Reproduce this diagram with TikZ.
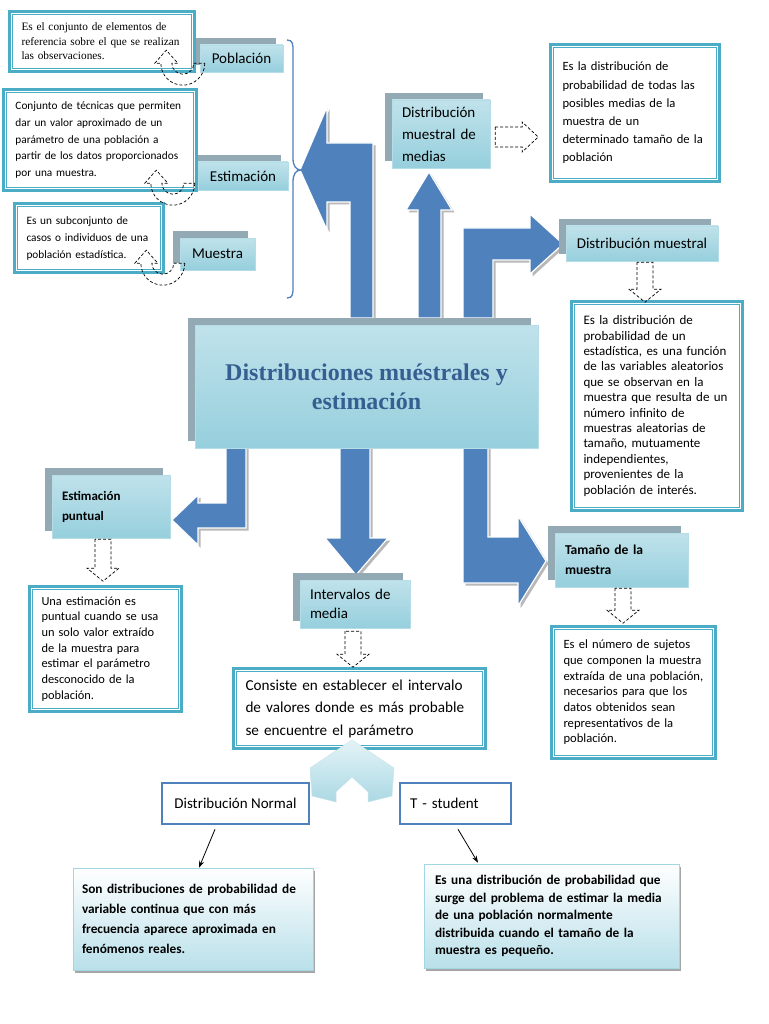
\documentclass[tikz,border=0pt]{standalone}
\usepackage{fontspec}
\setmainfont{Carlito}
\newfontfamily\seriffont{Liberation Serif}
\usetikzlibrary{arrows.meta, positioning, calc, shadows}

\definecolor{boxteal}{HTML}{4BACC6}
\definecolor{arrowblue}{HTML}{4F81BD}
\definecolor{labelshade}{HTML}{93AAB4}
\definecolor{labellight}{HTML}{E4F3F7}
\definecolor{labeldark}{HTML}{96CFDD}
\definecolor{titleblue}{HTML}{365F91}
\definecolor{notefill}{HTML}{B9E0EA}

\tikzset{
  labelbox/.style={top color=labeldark!60!white, middle color=labellight, bottom color=labeldark,
    draw=labeldark!70!white, line width=0.4pt, inner xsep=10pt, font=\fontsize{15}{18}\selectfont,
    drop shadow={shadow xshift=-7pt, shadow yshift=7pt, fill=labelshade, opacity=1}},
  descbox/.style={fill=white, draw=boxteal, line width=1pt, double=white, double distance=1.2pt,
    preaction={draw=boxteal, line width=7pt}, inner xsep=10pt, align=left},
  blockarrow/.style={fill=arrowblue, draw=white, line width=1.2pt,
    drop shadow={shadow xshift=2.5pt, shadow yshift=-2.5pt, fill=black!28, opacity=1}},
  hollowarrow/.style={draw=black, line width=0.7pt, dash pattern=on 3pt off 2pt},
  choicebox/.style={fill=white, draw=arrowblue, line width=2.5pt, minimum height=41pt,
    font=\fontsize{15}{18}\selectfont,
    drop shadow={shadow xshift=1pt, shadow yshift=-1pt, fill=black!40, opacity=1}},
  notebox/.style={top color=white, bottom color=notefill, draw=notefill!80!boxteal, line width=0.6pt,
    align=left, font=\bfseries,
    drop shadow={shadow xshift=1.5pt, shadow yshift=-2.5pt, fill=black!35, opacity=1}},
  pics/dnarrow/.style={code={
    \draw[hollowarrow] (-8,0) -- (-8,{#1-13}) -- (-16,{#1-13}) -- (0,#1) -- (16,{#1-13}) -- (8,{#1-13}) -- (8,0) -- cycle;
  }},
  pics/rtarrow/.style={code={
    \draw[hollowarrow] (0,-10) -- ({#1-16},-10) -- ({#1-16},-15) -- (#1,0) -- ({#1-16},15) -- ({#1-16},10) -- (0,10) -- cycle;
  }},
  pics/uturn/.style={code={
    \draw[hollowarrow] (22,0) arc[start angle=0, end angle=180, radius=22] -- (-28,0) -- (-16.5,-13)
      -- (-5,0) -- (-11,0) arc[start angle=180, end angle=0, radius=11] -- cycle;
  }},
}

\begin{document}
\begin{tikzpicture}[x=1pt, y=-1pt]
  \fill[white] (0,0) rectangle (768,1024);

  % Block arrows out of the central box
  \path[blockarrow] (350,318) -- (350,202) -- (327,202) -- (327,230) -- (300,170) -- (327,107)
    -- (327,143) -- (373,143) -- (373,318) -- cycle;
  \path[blockarrow] (418,318) -- (418,210) -- (406,210) -- (429,172) -- (452,210) -- (441,210)
    -- (441,318) -- cycle;
  \path[blockarrow] (463,318) -- (463,228) -- (530,228) -- (530,214) -- (563,244) -- (530,274)
    -- (530,260) -- (493,260) -- (493,318) -- cycle;
  \path[blockarrow] (246,440) -- (246,528) -- (198,528) -- (198,545) -- (172,520) -- (198,495)
    -- (198,503) -- (226,503) -- (226,440) -- cycle;
  \path[blockarrow] (340,440) -- (340,538) -- (325,538) -- (356,575) -- (388,538) -- (370,538)
    -- (370,440) -- cycle;
  \path[blockarrow] (463,440) -- (463,583) -- (518,583) -- (518,606) -- (546,561) -- (518,516)
    -- (518,537) -- (488,537) -- (488,440) -- cycle;

  % Brace
  \draw[arrowblue, line width=1.3pt] (287,40) .. controls (293,40) and (293,44) .. (293,52) -- (293,158)
    .. controls (293,166) and (296,170) .. (301,170) .. controls (296,170) and (293,174) .. (293,182)
    -- (293,286) .. controls (293,294) and (293,298) .. (287,298);

  % Central box
  \node[labelbox, minimum width=343pt, minimum height=123pt, align=center, text=titleblue,
    font=\seriffont\bfseries\fontsize{24}{29}\selectfont] (main) at (366.5,386.5)
    {Distribuciones muéstrales y\\estimación};

  % Labels
  \node[labelbox, minimum width=83pt, minimum height=27pt] (pob) at (241.5,58.5) {Población};
  \node[labelbox, minimum width=90pt, minimum height=28pt] (est) at (243,176) {Estimación};
  \node[labelbox, minimum width=75pt, minimum height=32pt] (mu) at (217.5,254) {Muestra};
  \node[labelbox, minimum width=98pt, minimum height=68pt, text width=78pt, align=left,
    font=\fontsize{15}{22}\selectfont] (medias) at (441,134) {Distribución\\muestral de\\medias};
  \node[labelbox, minimum width=152pt, minimum height=35pt] (dm) at (642,243.5) {Distribución muestral};
  \node[labelbox, minimum width=118pt, minimum height=63pt, text width=98pt, align=left,
    font=\bfseries\fontsize{13}{20}\selectfont] (punt) at (111,506.5) {Estimación\\puntual};
  \node[labelbox, minimum width=110pt, minimum height=48pt, text width=90pt, align=left,
    font=\fontsize{15}{19}\selectfont] (inter) at (355,604) {Intervalos de\\media};
  \node[labelbox, minimum width=133pt, minimum height=54pt, text width=113pt, align=left,
    font=\bfseries\fontsize{13.6}{20}\selectfont] (tam) at (621.5,560) {Tamaño de la\\muestra};

  % Definition boxes
  \node[descbox, minimum width=181pt, minimum height=56pt, text width=161pt,
    font=\seriffont\fontsize{11.3}{14.5}\selectfont] (pobdesc) at (102,41.5)
    {Es el conjunto de elementos de\\referencia sobre el que se realizan\\las observaciones.};
  \node[descbox, minimum width=189pt, minimum height=97pt, text width=169pt,
    font=\fontsize{11.3}{16.7}\selectfont] (estdesc) at (100,140)
    {Conjunto de técnicas que permiten\\dar un valor aproximado de un\\parámetro de una población a\\partir de los datos proporcionados\\por una muestra.};
  \node[descbox, minimum width=145pt, minimum height=65pt, text width=125pt,
    font=\fontsize{11.3}{17}\selectfont] (mudesc) at (89,238)
    {Es un subconjunto de\\casos o individuos de una\\población estadística.};
  \node[descbox, minimum width=165pt, minimum height=133pt, text width=145pt,
    font=\fontsize{12.6}{18.2}\selectfont] (mediasdesc) at (635,113)
    {Es la distribución de\\probabilidad de todas las\\posibles medias de la\\muestra de un\\determinado tamaño de la\\población};
  \node[descbox, minimum width=167pt, minimum height=205pt, text width=147pt,
    font=\fontsize{13}{15.4}\selectfont] (dmdesc) at (657,406)
    {Es la distribución de\\probabilidad de un\\estadística, es una función\\de las variables aleatorios\\que se observan en la\\muestra que resulta de un\\número infinito de\\muestras aleatorias de\\tamaño, mutuamente\\independientes,\\provenientes de la\\población de interés.};
  \node[descbox, minimum width=148pt, minimum height=121pt, text width=128pt,
    font=\fontsize{12.4}{15.7}\selectfont] (puntdesc) at (105.5,649)
    {Una estimación es\\puntual cuando se usa\\un solo valor extraído\\de la muestra para\\estimar el parámetro\\desconocido de la\\población.};
  \node[descbox, minimum width=248pt, minimum height=76pt, text width=228pt,
    font=\fontsize{15.2}{22.5}\selectfont] (interdesc) at (359.5,708.5)
    {Consiste en establecer el intervalo\\de valores donde es más probable\\se encuentre el parámetro};
  \node[descbox, minimum width=160pt, minimum height=128pt, text width=140pt,
    font=\fontsize{12.6}{15.7}\selectfont] (tamdesc) at (633.5,692.5)
    {Es el número de sujetos\\que componen la muestra\\extraída de una población,\\necesarios para que los\\datos obtenidos sean\\representativos de la\\población.};

  % Dashed arrows
  \pic at ([xshift=-17pt, yshift=9pt]pob.south west) {uturn};
  \pic at ([xshift=-25pt, yshift=7pt]est.south west) {uturn};
  \pic at ([xshift=-17pt, yshift=7pt]mu.south west) {uturn};
  \pic at ([xshift=5pt, yshift=-3pt]medias.east) {rtarrow=43};
  \pic at ([xshift=3pt, yshift=-1pt]dm.south) {dnarrow=40};
  \pic at ([xshift=-8pt, yshift=-1pt]punt.south) {dnarrow=42};
  \pic at ([xshift=-2pt, yshift=-3pt]inter.south) {dnarrow=36};
  \pic at ([xshift=1.5pt, yshift=-1pt]tam.south) {dnarrow=35};

  % Split arrow under the interval box
  \shade[top color=labellight, bottom color=labeldark!80!white, draw=labeldark!50!white, line width=0.5pt]
    (352,740) -- (394,768) -- (392,796) -- (368,802) -- (368,792) -- (352,777) -- (336,792)
    -- (336,802) -- (312,796) -- (310,768) -- cycle;

  % Distributions
  \node[choicebox, minimum width=147pt] (normal) at (235.5,803.5) {Distribución Normal};
  \node[choicebox, minimum width=111pt, text width=91pt, align=left] (tstudent) at (455.5,803.5) {T - student};
  \node[notebox, minimum width=240pt, minimum height=102pt, text width=222pt,
    font=\bfseries\fontsize{13.3}{20}\selectfont] (sonbox) at (193,919)
    {Son distribuciones de probabilidad de\\variable continua que con más\\frecuencia aparece aproximada en\\fenómenos reales.};
  \node[notebox, minimum width=255pt, minimum height=104pt, text width=233pt,
    font=\bfseries\fontsize{13.3}{17.5}\selectfont] (esunabox) at (551.5,916)
    {Es una distribución de probabilidad que\\surge del problema de estimar la media\\de una población normalmente\\distribuida cuando el tamaño de la\\muestra es pequeño.};
  \draw[-{Stealth[length=7pt, width=5pt]}, line width=0.8pt] ([xshift=-20.5pt, yshift=-4pt]normal.south)
    -- ([xshift=6pt]sonbox.north);
  \draw[-{Stealth[length=7pt, width=5pt]}, line width=0.8pt] ([xshift=2.5pt, yshift=-4pt]tstudent.south)
    -- ([xshift=-73.5pt, yshift=1pt]esunabox.north);
\end{tikzpicture}
\end{document}
